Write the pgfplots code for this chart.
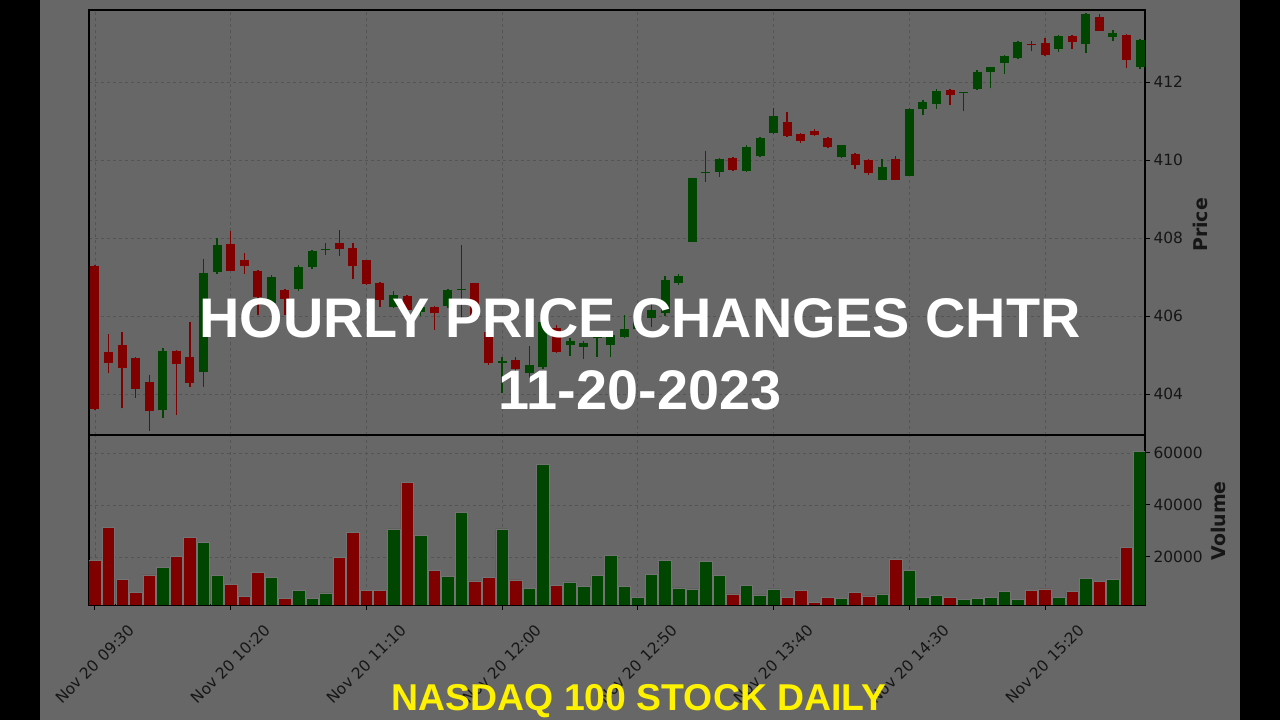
\documentclass[border=0pt]{standalone}
\usepackage{pgfplots}
\pgfplotsset{compat=1.18}
\usepackage{pgfplotstable}
\usepackage{fontspec}
\setmainfont{DejaVu Sans}
\newfontfamily\titlefont{Liberation Sans}

\definecolor{bg}{RGB}{103,103,103}
\definecolor{grd}{RGB}{84,84,84}
\definecolor{dn}{RGB}{128,0,0}
\definecolor{upc}{RGB}{0,70,0}
\definecolor{lbl}{RGB}{22,22,22}

% 5-minute candles, index 0 = 09:30
\pgfplotstableread{
i o h l c v
0 407.29 407.31 403.60 403.61 18800
1 405.08 405.53 404.55 404.80 31500
2 405.27 405.58 403.63 404.67 11500
3 404.92 404.95 403.91 404.13 6400
4 404.32 404.49 403.06 403.56 13100
6 405.10 405.12 403.46 404.76 20100
7 404.95 405.85 404.19 404.28 27600
10 407.84 408.19 407.15 407.15 9600
11 407.43 407.62 407.08 407.29 4700
12 407.16 407.17 406.03 406.49 14000
14 406.67 406.70 406.03 406.45 4100
18 407.87 408.21 407.55 407.73 19700
19 407.74 407.88 406.94 407.28 29600
20 407.43 407.45 406.80 406.81 7300
21 406.85 406.87 406.24 406.41 7300
23 406.51 406.55 406.10 406.15 48700
25 406.22 406.25 405.64 406.09 14700
28 406.84 406.86 405.90 405.94 10800
29 405.60 405.62 404.75 404.79 12100
31 404.87 404.96 404.50 404.63 11200
34 405.69 405.77 405.05 405.09 9200
47 410.06 410.08 409.72 409.74 5800
51 410.98 411.24 410.60 410.62 4500
52 410.67 410.70 410.43 410.49 7300
53 410.75 410.81 410.63 410.65 2600
54 410.56 410.58 410.30 410.33 4500
56 410.15 410.17 409.76 409.88 6500
57 410.00 410.02 409.63 409.66 5000
59 410.02 410.10 409.48 409.50 19100
63 411.79 411.83 411.41 411.66 4500
69 412.98 413.05 412.79 412.95 7200
70 413.01 413.14 412.67 412.69 7700
72 413.19 413.21 412.85 413.02 6900
74 413.67 413.74 413.30 413.31 10500
76 413.21 413.23 412.35 412.58 23700
}\down

\pgfplotstableread{
i o h l c v
5 403.59 405.17 403.38 405.10 15900
8 404.57 407.46 404.19 407.11 25600
9 407.13 407.99 407.08 407.81 12800
13 406.33 407.05 406.20 407.01 12100
15 406.69 407.30 406.65 407.26 7300
16 407.26 407.70 407.20 407.68 4100
17 407.70 407.88 407.56 407.73 6200
22 406.22 406.65 406.20 406.55 30800
24 406.10 406.25 406.00 406.22 28300
26 406.26 406.70 406.20 406.67 12400
27 406.66 407.82 405.90 406.70 37100
30 404.80 404.96 404.02 404.85 30800
32 404.53 405.23 404.40 404.74 7900
33 404.70 405.90 404.65 405.85 55500
35 405.26 405.43 404.97 405.37 10400
36 405.20 405.35 404.91 405.30 8600
37 405.43 405.55 404.96 405.46 12800
38 405.26 405.55 404.96 405.51 20600
39 405.47 406.03 405.45 405.68 8600
40 405.68 405.98 405.62 405.95 4600
41 405.95 406.33 405.73 406.15 13200
42 406.07 407.03 406.00 406.92 18700
43 406.86 407.08 406.80 407.03 8100
44 407.91 409.55 407.90 409.55 7700
45 409.66 410.24 409.44 409.70 18200
46 409.70 410.05 409.57 410.03 12800
48 409.72 410.38 409.70 410.34 9000
49 410.11 410.60 410.08 410.56 5400
50 410.70 411.33 410.67 411.13 7700
55 410.07 410.40 410.05 410.38 4100
58 409.50 410.03 409.48 409.83 5800
60 409.60 411.33 409.58 411.31 14900
61 411.30 411.53 411.15 411.50 4500
62 411.45 411.83 411.31 411.78 5100
64 411.72 411.74 411.26 411.75 3700
65 411.82 412.30 411.80 412.27 4100
66 412.26 412.40 411.84 412.38 4600
67 412.50 412.70 412.22 412.68 6900
68 412.61 413.05 412.60 413.03 3800
71 412.86 413.20 412.78 413.18 4600
73 412.97 413.76 412.74 413.74 11700
75 413.17 413.33 413.05 413.27 11300
77 412.39 413.10 412.33 413.08 60600
}\up

\pgfplotsset{
  panel/.style={
    scale only axis, width=1056bp,
    xmin=-0.44, xmax=77.37,
    axis background/.style={fill=bg},
    axis line style={black, line width=1.6bp},
    xtick={0,10,...,70},
    ytick pos=right, yticklabel pos=right,
    tick align=outside, major tick length=5bp,
    tick style={black, line width=1bp},
    grid=major,
    major grid style={grd, dash pattern=on 3bp off 3bp, line width=0.9bp},
    tick label style={font=\fontsize{15.5}{16}\selectfont, text=lbl},
    /pgf/number format/assume math mode=true,
  },
}

\begin{document}
\begin{tikzpicture}
\path[use as bounding box] (0,0) rectangle (1280bp,720bp);
\fill[black] (0,0) rectangle (1280bp,720bp);
\fill[bg] (40bp,0) rectangle (1240bp,720bp);

% price panel
\begin{axis}[panel,
  at={(89bp,285bp)}, anchor=south west, height=425bp,
  ymin=402.95, ymax=413.85,
  ytick={404,406,...,412},
  xticklabels={}, x tick style={draw=none},
]
% wicks
\addplot[draw=none, error bars/.cd, y dir=plus, y explicit, error mark=none,
  error bar style={draw=dn, line width=1.5bp}]
  table[x=i, y=l, y error expr=\thisrow{h}-\thisrow{l}] {\down};
\addplot[draw=none, error bars/.cd, y dir=plus, y explicit, error mark=none,
  error bar style={draw=upc, line width=1.5bp}]
  table[x=i, y=l, y error expr=\thisrow{h}-\thisrow{l}] {\up};
% bodies
\addplot[draw=none, error bars/.cd, y dir=plus, y explicit, error mark=none,
  error bar style={draw=dn, line width=9bp}]
  table[x=i, y=c, y error expr=\thisrow{o}-\thisrow{c}] {\down};
\addplot[draw=none, error bars/.cd, y dir=plus, y explicit, error mark=none,
  error bar style={draw=upc, line width=9bp}]
  table[x=i, y=o, y error expr=\thisrow{c}-\thisrow{o}] {\up};
\end{axis}

% volume panel
\begin{axis}[panel,
  at={(89bp,115bp)}, anchor=south west, height=170bp,
  ymin=1538, ymax=66923,
  ytick={20000,40000,60000},
  scaled y ticks=false,
  yticklabel style={/pgf/number format/fixed, /pgf/number format/1000 sep={}},
  xtick pos=bottom,
  xticklabels={Nov 20 09:30, Nov 20 10:20, Nov 20 11:10, Nov 20 12:00,
    Nov 20 12:50, Nov 20 13:40, Nov 20 14:30, Nov 20 15:20},
  xticklabel style={anchor=center, yshift=-54bp, rotate=45},
]
\addplot[ybar, bar width=0.92, bar shift=0pt, fill=dn, draw=black!55, line width=0.6bp]
  table[x=i, y=v] {\down};
\addplot[ybar, bar width=0.92, bar shift=0pt, fill=upc, draw=black!55, line width=0.6bp]
  table[x=i, y=v] {\up};
\end{axis}

\node[rotate=90, text=lbl, font=\bfseries\fontsize{19}{19}\selectfont] at (1200bp,495bp) {Price};
\node[rotate=90, text=lbl, font=\bfseries\fontsize{19}{19}\selectfont] at (1218bp,199bp) {Volume};

\node[anchor=base, text=white, font=\titlefont\bfseries\fontsize{56}{56}\selectfont] at (640bp,382.7bp) {HOURLY PRICE CHANGES CHTR};
\node[anchor=base, text=white, font=\titlefont\bfseries\fontsize{56}{56}\selectfont] at (640bp,310bp) {11-20-2023};
\node[anchor=base, text=yellow, font=\titlefont\bfseries\fontsize{37.5}{38}\selectfont] at (639bp,9.5bp) {NASDAQ 100 STOCK DAILY};
\end{tikzpicture}
\end{document}
